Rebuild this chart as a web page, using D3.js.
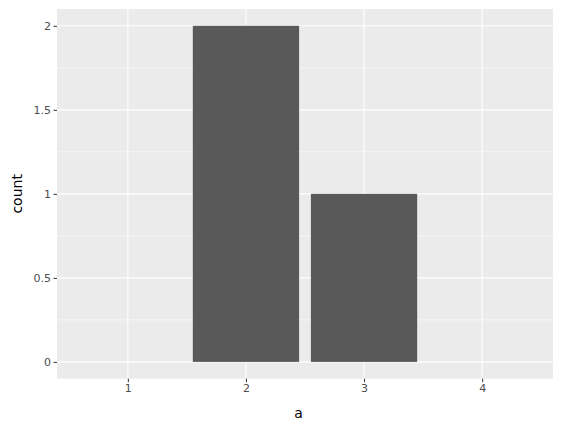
<!DOCTYPE html>
<html>
<head>
<meta charset="utf-8">
<script src="https://cdn.jsdelivr.net/npm/d3@7"></script>
<style>
  body { margin: 0; background: #fff; }
  svg { display: block; font-family: "DejaVu Sans", sans-serif; }
</style>
</head>
<body>
<svg id="chart" width="563" height="430"></svg>
<script>
// data
const categories = [2, 3];
const counts = [2, 1];
const xTicks = [1, 2, 3, 4];
const yTicks = [0, 0.5, 1, 1.5, 2];
const yMinor = [0.25, 0.75, 1.25, 1.75];

const panel = {left: 57, right: 553, top: 9, bottom: 378.7};

const svg = d3.select('#chart');

const x = d3.scaleLinear()
  .domain([0.4, 4.6])
  .range([panel.left, panel.right]);

const y = d3.scaleLinear()
  .domain([-0.1, 2.1])
  .range([panel.bottom, panel.top]);

// panel background
svg.append('rect')
  .attr('x', panel.left)
  .attr('y', panel.top)
  .attr('width', panel.right - panel.left)
  .attr('height', panel.bottom - panel.top)
  .attr('fill', '#ebebeb');

// grid lines
const grid = svg.append('g');
grid.selectAll('.minor')
  .data(yMinor)
  .join('line')
  .attr('x1', panel.left).attr('x2', panel.right)
  .attr('y1', d => y(d)).attr('y2', d => y(d))
  .attr('stroke', '#fff')
  .attr('stroke-width', 0.55);
grid.selectAll('.majy')
  .data(yTicks)
  .join('line')
  .attr('x1', panel.left).attr('x2', panel.right)
  .attr('y1', d => y(d)).attr('y2', d => y(d))
  .attr('stroke', '#fff')
  .attr('stroke-width', 1.1);
grid.selectAll('.majx')
  .data(xTicks)
  .join('line')
  .attr('x1', d => x(d)).attr('x2', d => x(d))
  .attr('y1', panel.top).attr('y2', panel.bottom)
  .attr('stroke', '#fff')
  .attr('stroke-width', 1.1);

// bars
const barWidth = 0.9;
svg.append('g')
  .selectAll('rect')
  .data(categories.map((c, i) => ({a: c, count: counts[i]})))
  .join('rect')
  .attr('x', d => x(d.a - barWidth / 2))
  .attr('width', d => x(d.a + barWidth / 2) - x(d.a - barWidth / 2))
  .attr('y', d => y(d.count))
  .attr('height', d => y(0) - y(d.count))
  .attr('fill', '#595959');

// axes
const xAxis = d3.axisBottom(x)
  .tickValues(xTicks)
  .tickSize(3.5)
  .tickPadding(2.5)
  .tickFormat(d3.format('d'));

const yAxis = d3.axisLeft(y)
  .tickValues(yTicks)
  .tickSize(3.5)
  .tickPadding(2.5)
  .tickFormat(d => String(d));

const axisX = svg.append('g')
  .attr('transform', `translate(0, ${panel.bottom})`)
  .call(xAxis);

const axisY = svg.append('g')
  .attr('transform', `translate(${panel.left}, 0)`)
  .call(yAxis);

[axisX, axisY].forEach(g => {
  g.select('.domain').remove();
  g.selectAll('.tick line').attr('stroke', '#333').attr('stroke-width', 1);
  g.selectAll('.tick text')
    .attr('fill', '#4d4d4d')
    .style('font-size', '11px')
    .style('font-family', '"DejaVu Sans", sans-serif');
});

// axis titles
svg.append('text')
  .attr('x', 298.5)
  .attr('y', 418)
  .attr('text-anchor', 'middle')
  .style('font-size', '14px')
  .text('a');

svg.append('text')
  .attr('transform', `translate(22, ${(panel.top + panel.bottom) / 2}) rotate(-90)`)
  .attr('text-anchor', 'middle')
  .style('font-size', '14px')
  .text('count');
</script>
</body>
</html>
